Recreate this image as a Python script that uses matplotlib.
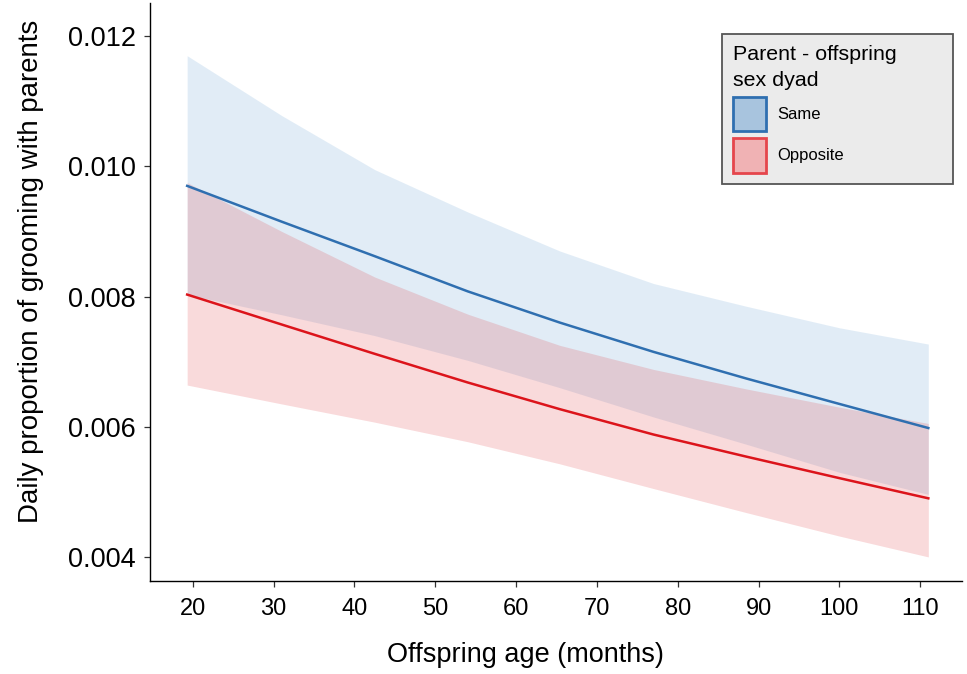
import matplotlib
matplotlib.use('Agg')
import matplotlib.pyplot as plt
from matplotlib.patches import Patch

# Model predictions (offspring age in months)
age = [19.3, 31.0, 42.5, 54.0, 65.4, 77.0, 88.5, 100.0, 111.0]

same_fit = [0.00970, 0.00915, 0.00862, 0.00808, 0.00760, 0.00715, 0.00674, 0.00635, 0.00598]
same_lo = [0.00803, 0.00772, 0.00740, 0.00702, 0.00660, 0.00615, 0.00573, 0.00530, 0.00496]
same_hi = [0.01170, 0.01078, 0.00995, 0.00930, 0.00870, 0.00820, 0.00785, 0.00752, 0.00727]

opp_fit = [0.00803, 0.00757, 0.00712, 0.00668, 0.00627, 0.00588, 0.00554, 0.00521, 0.00490]
opp_lo = [0.00664, 0.00635, 0.00607, 0.00577, 0.00543, 0.00505, 0.00468, 0.00432, 0.00400]
opp_hi = [0.00975, 0.00900, 0.00830, 0.00773, 0.00725, 0.00688, 0.00658, 0.00630, 0.00605]

xticks = [20, 30, 40, 50, 60, 70, 80, 90, 100, 110]
yticks = [0.004, 0.006, 0.008, 0.010, 0.012]

BLUE = '#2f6fb0'
RED = '#dc141b'

plt.rcParams['font.family'] = ['Liberation Sans', 'DejaVu Sans']

fig = plt.figure(figsize=(9.67, 6.74), dpi=100)
ax = fig.add_axes([0.1551, 0.138, 0.840, 0.8576])

# Confidence bands then fitted lines
ax.fill_between(age, same_lo, same_hi, color='#3a86c8', alpha=0.15, lw=0)
ax.fill_between(age, opp_lo, opp_hi, color=RED, alpha=0.155, lw=0)
ax.plot(age, same_fit, color=BLUE, lw=1.8)
ax.plot(age, opp_fit, color=RED, lw=1.8)

# Axes
ax.set_xlim(14.7, 115.2)
ax.set_ylim(0.00363, 0.01251)
ax.set_xticks(xticks)
ax.set_xticklabels([str(t) for t in xticks], fontsize=17)
ax.set_yticks(yticks)
ax.set_yticklabels(['%.3f' % t for t in yticks], fontsize=19.5)
ax.tick_params(axis='both', direction='out', length=4, width=0.9, color='#333333')
ax.tick_params(axis='x', pad=8)
ax.tick_params(axis='y', pad=6)
for side in ['top', 'right']:
    ax.spines[side].set_visible(False)
for side in ['left', 'bottom']:
    ax.spines[side].set_linewidth(1.0)

ax.set_xlabel('Offspring age (months)', fontsize=19.5, labelpad=16)
ax.set_ylabel('Daily proportion of grooming with parents', fontsize=19.9, labelpad=17)
ax.xaxis.label.set_x(0.462)
ax.yaxis.label.set_y(0.535)

# Legend
handles = [
    Patch(facecolor='#a8c4de', edgecolor=BLUE, lw=2.0, label='Same'),
    Patch(facecolor='#f0b2b4', edgecolor='#e5464c', lw=2.0, label='Opposite'),
]
leg = ax.legend(handles=handles, title='Parent - offspring\nsex dyad', loc='upper left',
                bbox_to_anchor=(0.7044, 0.9464, 0.2845, 0.0), mode='expand',
                fontsize=12, title_fontsize=15.4,
                alignment='left', handlelength=1.98, handleheight=2.82,
                handletextpad=0.65, labelspacing=0.42, borderpad=0.65,
                fancybox=False, framealpha=1.0, borderaxespad=0)
leg.get_title().set_linespacing(1.45)
frame = leg.get_frame()
frame.set_facecolor('#ebebeb')
frame.set_edgecolor('#555555')
frame.set_linewidth(1.3)

fig.savefig('out.png', dpi=100)
